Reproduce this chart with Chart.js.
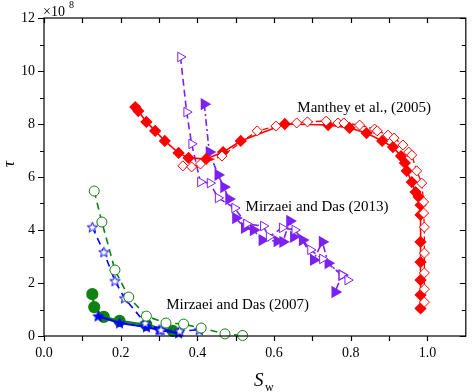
<!DOCTYPE html>
<html><head><meta charset="utf-8">
<script src="https://cdn.jsdelivr.net/npm/chart.js@4/dist/chart.umd.min.js"></script>
<style>html,body{margin:0;padding:0;background:#fff;}#wrap{width:474px;height:392px;position:relative;}</style>
</head><body><div id="wrap"><canvas id="c" width="474" height="392"></canvas></div>
<script>
// ---- data (Sw, tau in units of 1e8) ----
const mantheyFilledX = [0.238,0.246,0.267,0.290,0.315,0.351,0.377,0.423,0.467,0.513,0.628,0.741,0.797,0.841,0.882,0.910,0.931,0.941,0.946,0.959,0.969,0.977,0.982,0.982,0.982,0.982,0.982,0.982,0.982];
const mantheyFilledY = [8.64,8.49,8.08,7.74,7.36,6.91,6.72,6.68,6.94,7.36,8.00,7.96,7.85,7.66,7.36,7.13,6.79,6.53,6.23,5.81,5.43,5.25,4.94,4.57,3.55,2.79,2.11,1.55,1.04];
const mantheyOpenX = [0.362,0.385,0.408,0.464,0.556,0.605,0.659,0.687,0.736,0.767,0.782,0.823,0.862,0.869,0.897,0.913,0.936,0.951,0.959,0.972,0.985,0.990,0.990,0.992,0.992,0.992,0.992,0.992];
const mantheyOpenY = [6.42,6.38,6.49,6.79,7.74,7.92,8.04,8.08,8.11,8.04,8.04,7.96,7.81,7.74,7.58,7.47,7.21,6.94,6.83,6.23,5.77,5.06,4.64,4.11,3.13,2.38,1.77,1.28];
const m2013FilledX = [0.418,0.431,0.454,0.469,0.482,0.500,0.523,0.546,0.569,0.608,0.623,0.641,0.651,0.674,0.703,0.726,0.741,0.777,0.759];
const m2013FilledY = [8.75,6.94,6.08,5.62,5.17,4.45,4.08,4.00,3.62,3.58,3.55,4.34,3.74,3.62,2.87,3.55,2.75,2.30,1.66];
const m2013OpenX = [0.356,0.372,0.385,0.408,0.433,0.454,0.497,0.528,0.572,0.587,0.621,0.654,0.695,0.726,0.777,0.792];
const m2013OpenY = [10.53,8.45,7.25,5.81,5.77,5.21,4.83,4.23,4.15,3.74,4.08,4.00,3.25,2.91,2.30,2.11];
const m2007FilledX = [0.126,0.131,0.156,0.197,0.267,0.336];
const m2007FilledY = [1.58,1.09,0.72,0.57,0.42,0.19];
const m2007OpenX = [0.131,0.151,0.185,0.221,0.267,0.318,0.364,0.410,0.472,0.518];
const m2007OpenY = [5.47,4.30,2.49,1.47,0.75,0.49,0.45,0.30,0.08,0.02];
const starFilledX = [0.141,0.197,0.267,0.300,0.351];
const starFilledY = [0.75,0.49,0.34,0.23,0.11];
const starOpenX = [0.126,0.156,0.185,0.210,0.264,0.305,0.354,0.405];
const starOpenY = [4.11,3.17,2.08,1.43,0.49,0.23,0.19,0.23];

const xTickValues = [0,0.2,0.4,0.6,0.8,1.0];
const xTickLabels = ['0.0','0.2','0.4','0.6','0.8','1.0'];
const xMinorValues = [0.1,0.3,0.5,0.7,0.9];
const yTickValues = [0,2,4,6,8,10,12];
const yTickLabels = ['0','2','4','6','8','10','12'];
const yMinorValues = [1,3,5,7,9,11];

const annoTexts = ['Manthey et al., (2005)','Mirzaei and Das (2013)','Mirzaei and Das (2007)'];
const annoX = [0.835,0.712,0.505];
const annoY = [8.6,4.87,1.17];

const pts = (xs,ys)=>xs.map((x,i)=>({x:x,y:ys[i]}));

function makeStar(color, filled){
  const s=13, c=document.createElement('canvas'); c.width=s; c.height=s;
  const g=c.getContext('2d'); g.beginPath();
  const R=5.4, r=2.3, cx=s/2, cy=s/2+0.5;
  for(let i=0;i<10;i++){const a=-Math.PI/2+i*Math.PI/5; const rr=i%2?r:R; g.lineTo(cx+rr*Math.cos(a), cy+rr*Math.sin(a));}
  g.closePath();
  if(filled){g.fillStyle=color; g.fill();}
  else {g.fillStyle='#fff'; g.fill();}
  g.strokeStyle=color; g.lineWidth=1; g.stroke();
  return c;
}

const RED='#ff0000', PUR='#7b22f2', GRN='#0f820f', BLU='#0000ff';
const serif = "'Liberation Serif','Times New Roman',serif";

const datasets = [
  {data:pts(mantheyOpenX,mantheyOpenY), borderColor:RED, backgroundColor:'#fff', borderDash:[6,3], borderWidth:1.3, pointStyle:'rectRot', pointRadius:5, pointBorderColor:RED, pointBackgroundColor:'#fff', pointBorderWidth:1},
  {data:pts(mantheyFilledX,mantheyFilledY), borderColor:RED, backgroundColor:RED, borderWidth:1.6, pointStyle:'rectRot', pointRadius:5, pointBorderColor:RED, pointBackgroundColor:RED},
  {data:pts(m2013OpenX,m2013OpenY), borderColor:PUR, backgroundColor:'#fff', borderDash:[7,4], borderWidth:1.6, pointStyle:'triangle', pointRotation:90, pointRadius:5.5, pointBorderColor:PUR, pointBackgroundColor:'#fff', pointBorderWidth:1},
  {data:pts(m2013FilledX,m2013FilledY), borderColor:PUR, backgroundColor:PUR, borderDash:[7,3,2,3], borderWidth:1.6, pointStyle:'triangle', pointRotation:90, pointRadius:5.5, pointBorderColor:PUR, pointBackgroundColor:PUR},
  {data:pts(m2007OpenX,m2007OpenY), borderColor:GRN, backgroundColor:'#fff', borderDash:[7,5], borderWidth:1.6, pointStyle:'circle', pointRadius:5, pointBorderColor:GRN, pointBackgroundColor:'#fff', pointBorderWidth:1},
  {data:pts(starOpenX,starOpenY), borderColor:BLU, backgroundColor:'#fff', borderDash:[7,5], borderWidth:1.6, pointStyle:makeStar(BLU,false), pointRadius:6, pointBorderColor:BLU},
  {data:pts(starFilledX,starFilledY), borderColor:BLU, backgroundColor:BLU, borderWidth:2.2, pointStyle:makeStar(BLU,true), pointRadius:6, pointBorderColor:BLU},
  {data:pts(m2007FilledX,m2007FilledY), borderColor:GRN, backgroundColor:GRN, borderWidth:2.2, pointStyle:'circle', pointRadius:5, pointBorderColor:GRN, pointBackgroundColor:GRN}
];
datasets.forEach(d=>{d.showLine=true; d.tension=0; d.clip=false;});

const decor = {
  id:'decor',
  afterDatasetsDraw(chart){
    const g=chart.ctx, a=chart.chartArea, xs=chart.scales.x, ys=chart.scales.y;
    g.save();
    g.strokeStyle='#000'; g.lineWidth=1.2;
    g.strokeRect(a.left, a.top, a.right-a.left, a.bottom-a.top);
    g.beginPath();
    const allX = xTickValues.concat(xMinorValues);
    allX.forEach(v=>{const p=Math.round(xs.getPixelForValue(v))+0.5;
      g.moveTo(p,a.bottom); g.lineTo(p,a.bottom+5);
      g.moveTo(p,a.top); g.lineTo(p,a.top+5);});
    yTickValues.forEach(v=>{const p=Math.round(ys.getPixelForValue(v))+0.5;
      g.moveTo(a.left,p); g.lineTo(a.left-6,p);
      g.moveTo(a.right,p); g.lineTo(a.right-6,p);});
    yMinorValues.forEach(v=>{const p=Math.round(ys.getPixelForValue(v))+0.5;
      g.moveTo(a.left,p); g.lineTo(a.left-4,p);
      g.moveTo(a.right,p); g.lineTo(a.right-4,p);});
    g.stroke();
    // annotations
    g.fillStyle='#000'; g.font='15px '+serif; g.textAlign='center'; g.textBaseline='middle';
    annoTexts.forEach((t,i)=>g.fillText(t, xs.getPixelForValue(annoX[i]), ys.getPixelForValue(annoY[i])));
    // x title
    g.font='italic 19px '+serif; g.textAlign='left'; g.textBaseline='alphabetic';
    g.fillText('S', 254, 386);
    g.font='12px '+serif; g.fillText('w', 265, 391);
    // y title
    g.save(); g.translate(14,164); g.rotate(-Math.PI/2);
    g.font='italic 17px '+serif; g.textAlign='center'; g.fillText('\u03C4',0,0); g.restore();
    // multiplier
    g.font='14px '+serif; g.textAlign='left'; g.fillText('\u00D710', 43, 16);
    g.font='10px '+serif; g.fillText('8', 69, 8);
    g.restore();
  }
};

new Chart(document.getElementById('c'), {
  type:'scatter',
  data:{datasets},
  plugins:[decor],
  options:{
    responsive:false, animation:false, devicePixelRatio:1,
    layout:{padding:{top:18,right:2,left:0,bottom:0}},
    plugins:{legend:{display:false}, tooltip:{enabled:false}},
    scales:{
      x:{type:'linear', min:0, max:1.1,
        afterBuildTicks:s=>{s.ticks=xTickValues.map(v=>({value:v}));},
        afterFit:s=>{s.height=56;},
        grid:{display:false, drawTicks:false}, border:{display:false},
        ticks:{color:'#000', font:{family:serif,size:14}, padding:9, maxRotation:0,
          callback:(v,i)=>xTickLabels[i]}},
      y:{type:'linear', min:0, max:12,
        afterBuildTicks:s=>{s.ticks=yTickValues.map(v=>({value:v}));},
        afterFit:s=>{s.width=44;},
        grid:{display:false, drawTicks:false}, border:{display:false},
        ticks:{color:'#000', font:{family:serif,size:14}, padding:9,
          callback:(v,i)=>yTickLabels[i]}}
    }
  }
});
</script></body></html>
